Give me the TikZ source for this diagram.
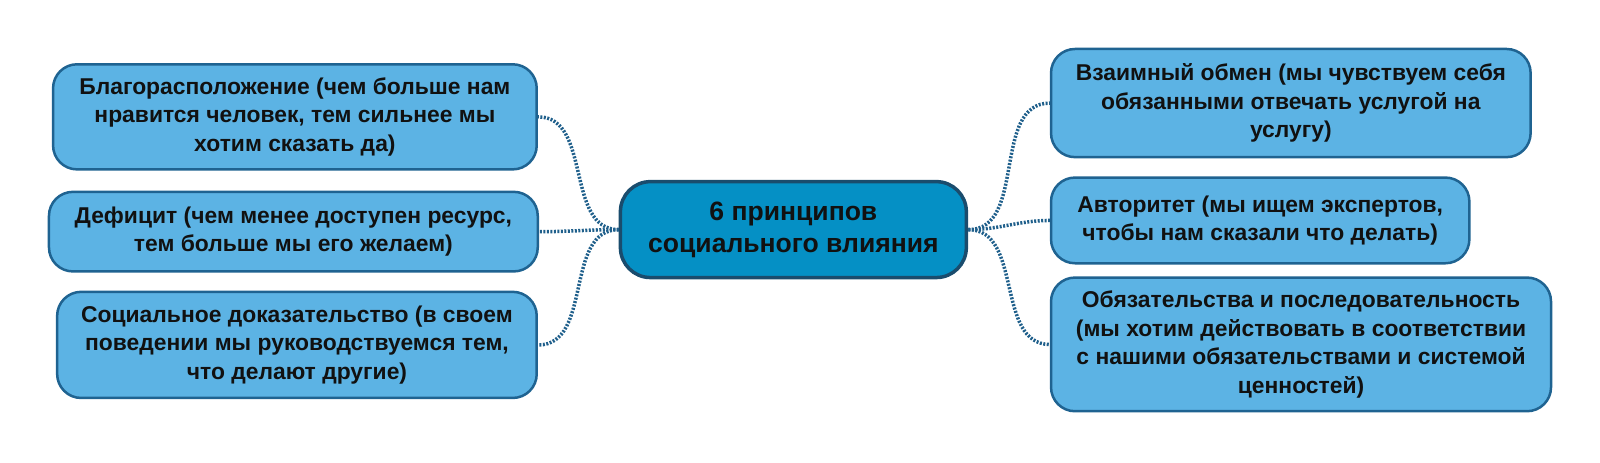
\documentclass[tikz,border=0pt]{standalone}
\usepackage{fontspec}
\setmainfont{Liberation Sans}
\usetikzlibrary{positioning}
\definecolor{leaffill}{HTML}{5CB3E4}
\definecolor{leafline}{HTML}{1F6391}
\definecolor{hubfill}{HTML}{0590C5}
\definecolor{hubline}{HTML}{1A4C6D}
\definecolor{linkcol}{HTML}{1F5F8B}
\definecolor{ink}{HTML}{111111}
\begin{document}
\begin{tikzpicture}[x=1pt,y=-1pt,scale=1.0204,transform shape,
    leaf/.style={draw=leafline,fill=leaffill,line width=2.5pt,rounded corners=24pt,text=ink,
      align=center,inner sep=0pt,font=\fontsize{22.4}{28}\selectfont\bfseries},
    hub/.style={draw=hubline,fill=hubfill,line width=3.5pt,rounded corners=30pt,text=ink,
      align=center,inner sep=0pt,font=\fontsize{26}{31}\selectfont\bfseries},
    link/.style={draw=linkcol,line width=3.5pt,dash pattern=on 2pt off 1.5pt}]
  \useasboundingbox (0,0) rectangle (1568,452.8);
  \node[hub,minimum width=339pt,minimum height=94pt] (p_0) at (777.5,225) {6 принципов\\социального влияния};
  % left side
  \node[leaf,minimum width=474pt,minimum height=103pt] (p_1) at (289,114.5) {Благорасположение (чем больше нам\\нравится человек, тем сильнее мы\\хотим сказать да)};
  \node[leaf,minimum width=479pt,minimum height=78pt] (p_2) at (287.5,227) {Дефицит (чем менее доступен ресурс,\\тем больше мы его желаем)};
  \node[leaf,minimum width=470pt,minimum height=104pt] (p_3) at (291,338) {Социальное доказательство (в своем\\поведении мы руководствуемся тем,\\что делают другие)};
  % right side
  \node[leaf,minimum width=470pt,minimum height=106pt] (p_4) at (1265,101) {Взаимный обмен (мы чувствуем себя\\обязанными отвечать услугой на\\услугу)};
  \node[leaf,minimum width=410pt,minimum height=84pt] (p_5) at (1235,216) {Авторитет (мы ищем экспертов,\\чтобы нам сказали что делать)};
  \node[leaf,minimum width=490pt,minimum height=131pt] (p_6) at (1275,337.5) {Обязательства и последовательность\\(мы хотим действовать в соответствии\\с нашими обязательствами и системой\\ценностей)};
  \path[link]
    (p_0.west) edge[out=180,in=0] (p_1.east)
    (p_0.west) edge[out=180,in=0] (p_2.east)
    (p_0.west) edge[out=180,in=0] (p_3.east)
    (p_0.east) edge[out=0,in=180] (p_4.west)
    (p_0.east) edge[out=0,in=180] (p_5.west)
    (p_0.east) edge[out=0,in=180] (p_6.west);
\end{tikzpicture}
\end{document}
